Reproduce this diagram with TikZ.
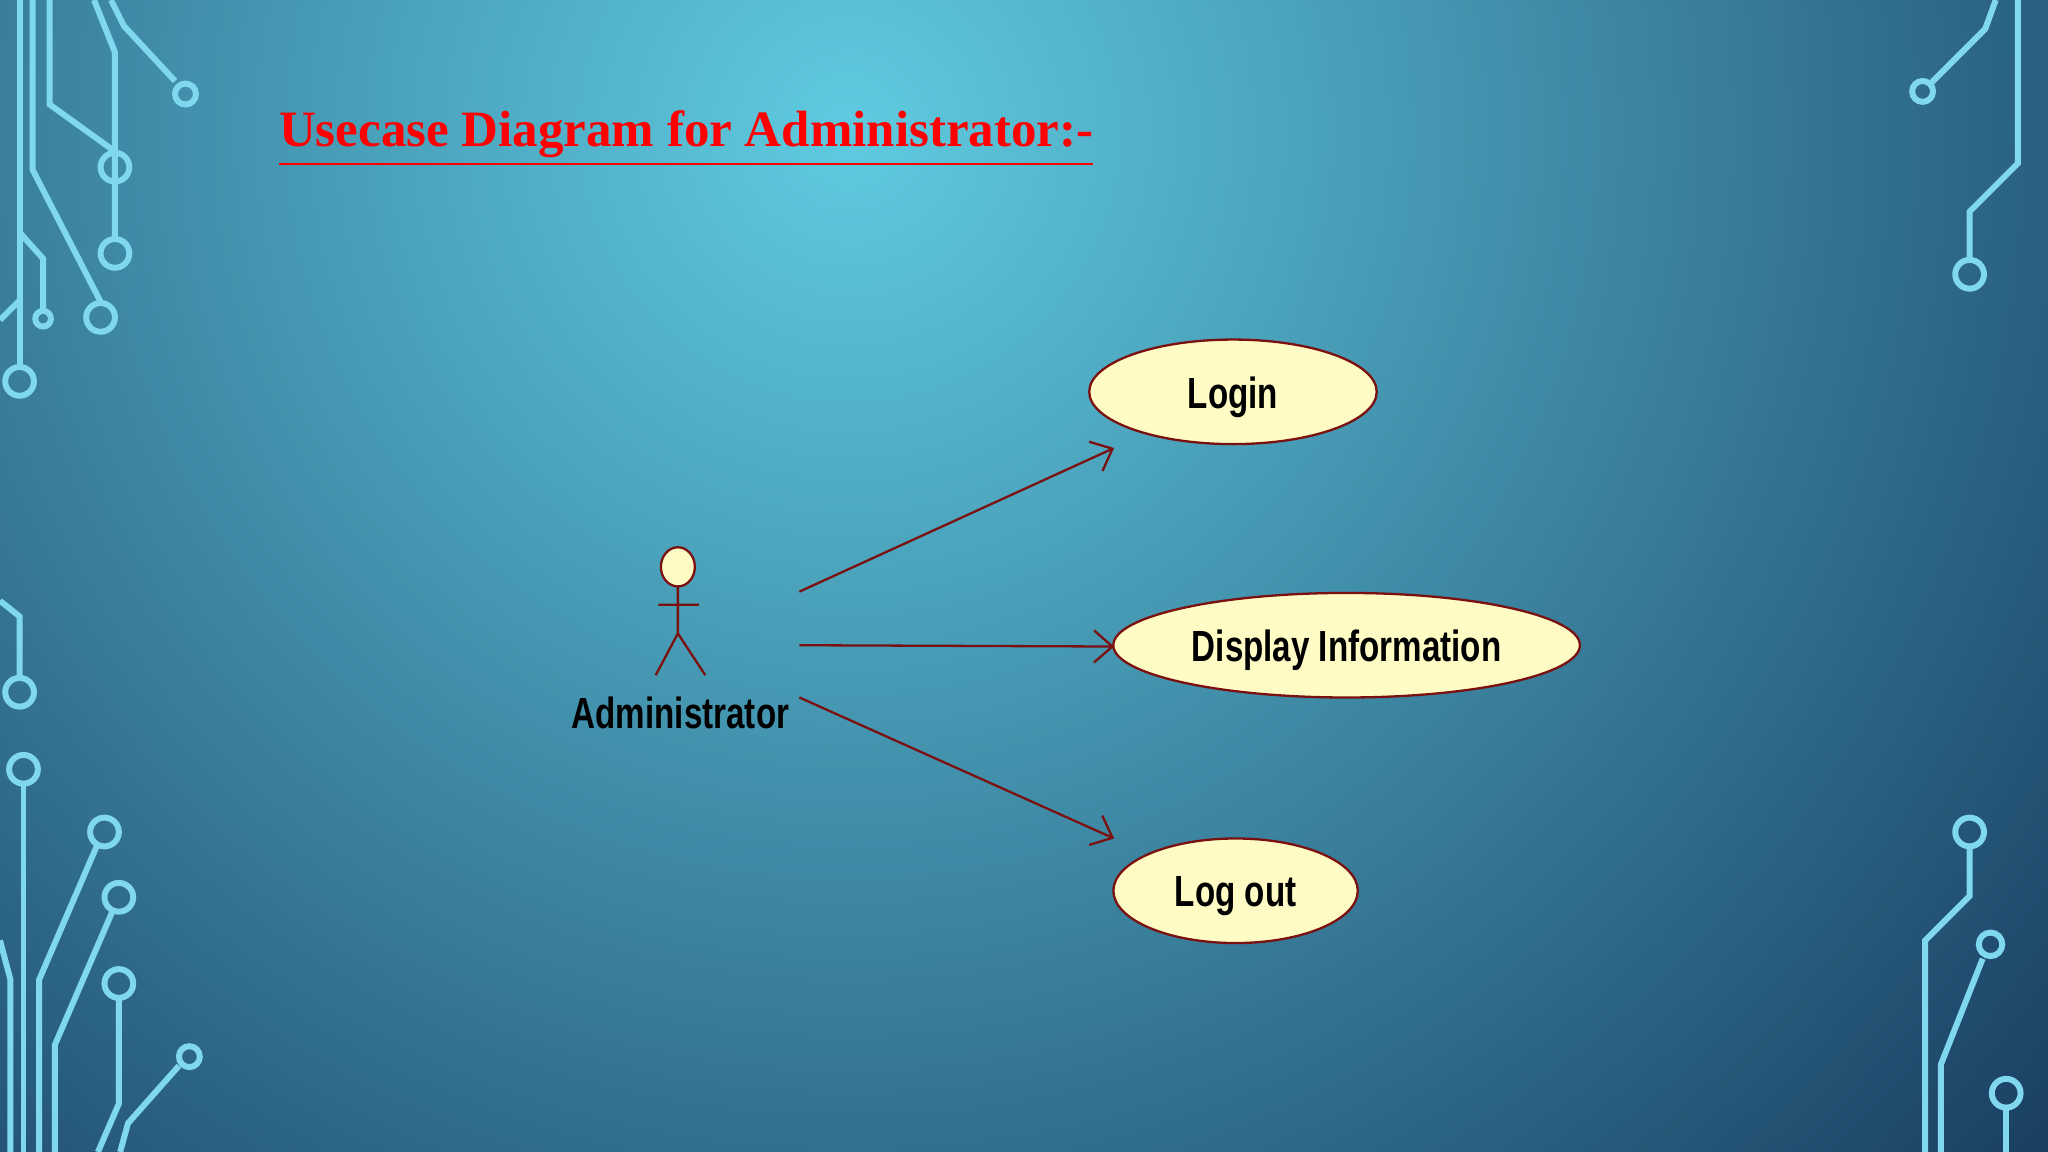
\documentclass[tikz,border=0pt]{standalone}
\usepackage{fontspec}
\setmainfont{Liberation Serif}
\newfontfamily\lab{Liberation Sans}
\usetikzlibrary{arrows.meta,shapes.geometric}
\definecolor{bgtop}{HTML}{5FCBE0}
\definecolor{bgbot}{HTML}{0B2248}
\definecolor{uc}{HTML}{FFFBC4}
\definecolor{ucb}{HTML}{7A1010}
\definecolor{circ}{HTML}{7FD8EE}
\tikzset{
 usecase/.style={ellipse,draw=ucb,fill=uc,line width=0.5pt,inner sep=0pt},
 lbl/.style={font=\lab\bfseries\fontsize{9.5}{11}\selectfont,text=black},
 assoc/.style={draw=ucb,line width=0.5pt,-{Straight Barb[length=4pt,width=7pt]}},
 fig/.style={draw=ucb,line width=0.5pt},
 trace/.style={draw=circ,line width=1.3pt},
 pad/.style={draw=circ,line width=1.3pt,fill=none}
}
\begin{document}
\begin{tikzpicture}[x=0.01cm,y=-0.01cm]
\useasboundingbox (0,0) rectangle (1568,882);
\begin{scope}
\clip (0,0) rectangle (1568,882);
\shade[inner color=bgtop,outer color=bgbot] (650,100) circle (1450);
\end{scope}
% circuit decorations left top
\draw[trace] (15,0)--(15,280); \draw[pad] (15,292) circle (11);
\draw[trace] (38,0)--(38,80)--(88,116); \draw[pad] (88,128) circle (11);
\draw[trace] (25,0)--(25,130)--(77,231); \draw[pad] (77,243) circle (11);
\draw[trace] (72,0)--(88,40)--(88,182); \draw[pad] (88,194) circle (11);
\draw[trace] (85,0)--(95,20)--(134,62); \draw[pad] (142,72) circle (8);
\draw[trace] (15,178)--(33,198)--(33,238); \draw[pad] (33,244) circle (6);
\draw[trace] (0,245)--(15,230);
% left bottom
\draw[trace] (0,460)--(15,472)--(15,518); \draw[pad] (15,530) circle (11);
\draw[trace] (18,600)--(18,882); \draw[pad] (18,589) circle (11);
\draw[trace] (0,720)--(8,750)--(8,882);
\draw[trace] (30,882)--(30,750)--(74,648); \draw[pad] (80,637) circle (11);
\draw[trace] (42,882)--(42,800)--(86,698); \draw[pad] (91,687) circle (11);
\draw[trace] (75,882)--(91,845)--(91,765); \draw[pad] (91,753) circle (11);
\draw[trace] (92,882)--(98,860)--(137,816); \draw[pad] (145,809) circle (8);
% right top
\draw[trace] (1528,0)--(1520,22)--(1479,63); \draw[pad] (1472,70) circle (8);
\draw[trace] (1545,0)--(1545,125)--(1508,162)--(1508,198); \draw[pad] (1508,210) circle (11);
% right bottom
\draw[trace] (1508,649)--(1508,686)--(1474,720)--(1474,882); \draw[pad] (1508,637) circle (11);
\draw[trace] (1518,734)--(1486,815)--(1486,882); \draw[pad] (1524,723) circle (9);
\draw[trace] (1536,849)--(1536,882); \draw[pad] (1536,837) circle (11);
% title
\node[anchor=west,text=red,inner sep=0pt,font=\bfseries\fontsize{11.1}{13}\selectfont] (title) at (213,106) {\underline{Usecase Diagram for Administrator:-}};
% actor
\draw[fig,fill=uc] (519,434) ellipse (13 and 15);
\coordinate (neck) at (519,449);
\coordinate (hip) at (519,485);
\draw[fig] (neck)--(hip) (504,463)--(535,463) (502,517)--(hip)--(540,517);
\node[lbl] (admin) at (521,546) {\scalebox{0.76}[1]{Administrator}};
% use cases
\node[usecase,minimum width=2.2cm,minimum height=0.8cm] (login) at (944,300) {};
\node[lbl] at (944,304) {\scalebox{0.76}[1]{Login}};
\node[usecase,minimum width=3.57cm,minimum height=0.8cm] (disp) at (1031,494) {};
\node[lbl] at (1031,498) {\scalebox{0.76}[1]{Display Information}};
\node[usecase,minimum width=1.87cm,minimum height=0.8cm] (logout) at (946,682) {};
\node[lbl] at (946,686) {\scalebox{0.76}[1]{Log out}};
% associations
\coordinate (s1) at (612,453); \coordinate (e1) at (853,343);
\coordinate (s2) at (612,494); \coordinate (e2) at (853,495);
\coordinate (s3) at (612,534); \coordinate (e3) at (853,642);
\draw[assoc] (s1)--(e1);
\draw[assoc] (s2)--(e2);
\draw[assoc] (s3)--(e3);
\end{tikzpicture}
\end{document}
